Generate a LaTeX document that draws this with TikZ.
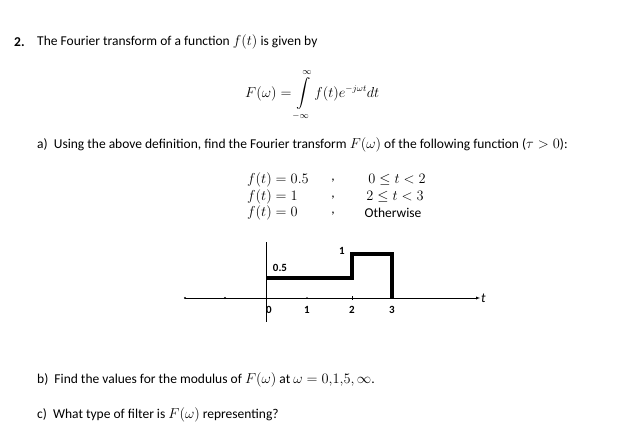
\documentclass[tikz,border=0pt]{standalone}
\usepackage{amsmath}
\usepackage{fontspec}
\setmainfont{Carlito}
\begin{document}
\begin{tikzpicture}[x=1pt,y=-1pt,font=\fontsize{13.5}{16}\selectfont,
  txt/.style={anchor=west,inner sep=0},
  lbl/.style={font=\fontsize{11}{13}\selectfont\bfseries,inner sep=0}]
\useasboundingbox (0,0) rectangle (638,442);
\node[txt,font=\fontsize{13.5}{16}\selectfont\bfseries] (n2) at (14,42) {2.};
\node[txt] (l1) at (37,42) {The Fourier transform of a function $f(t)$ is given by};
\node[txt] (eq) at (245,95) {$F(\omega)=\displaystyle\int\limits_{-\infty}^{\infty} f(t)e^{-j\omega t}dt$};
\node[txt] (la) at (37,145) {a)\ \ Using the above definition, find the Fourier transform $F(\omega)$ of the following function ($\tau>0$):};
\node[txt] (p1) at (247,180) {$f(t)=0.5$};
\node[txt] (p2) at (247,197) {$f(t)=1$};
\node[txt] (p3) at (247,213) {$f(t)=0$};
\node (c1) at (333,181) {,}; \node (c2) at (333,198) {,}; \node (c3) at (333,214) {,};
\node (r1) at (397,180) {$0\le t<2$};
\node (r2) at (395,197) {$2\le t<3$};
\node (r3) at (393,213) {Otherwise};
\coordinate (a0) at (185,298); \coordinate (a1) at (480,298);
\draw[-latex] (a0) -- (a1);
\node[anchor=west,inner sep=1] (tl) at (a1) {\itshape t};
\fill (185,298) circle (1.2) (225,298) circle (1.2) (307,298) circle (0.8);
\draw (266,242) -- (266,322);
\draw[line width=3.6pt] (266,278) -- (352,278) -- (352,254) -- (392,254) -- (392,298);
\draw (352,296) -- (352,300);
\node[lbl] (h05) at (280,268) {0.5};
\node[lbl] (h1) at (342,251) {1};
\node[lbl] (t0) at (269,310) {0};
\node[lbl] (t1) at (307,310) {1};
\node[lbl] (t2) at (352,310) {2};
\node[lbl] (t3) at (392,310) {3};
\node[txt] (lb) at (37,380) {b)\ \ Find the values for the modulus of $F(\omega)$ at $\omega=0{,}1{,}5,\infty$.};
\node[txt] (lc) at (37,415) {c)\ \ What type of filter is $F(\omega)$ representing?};
\end{tikzpicture}
\end{document}
